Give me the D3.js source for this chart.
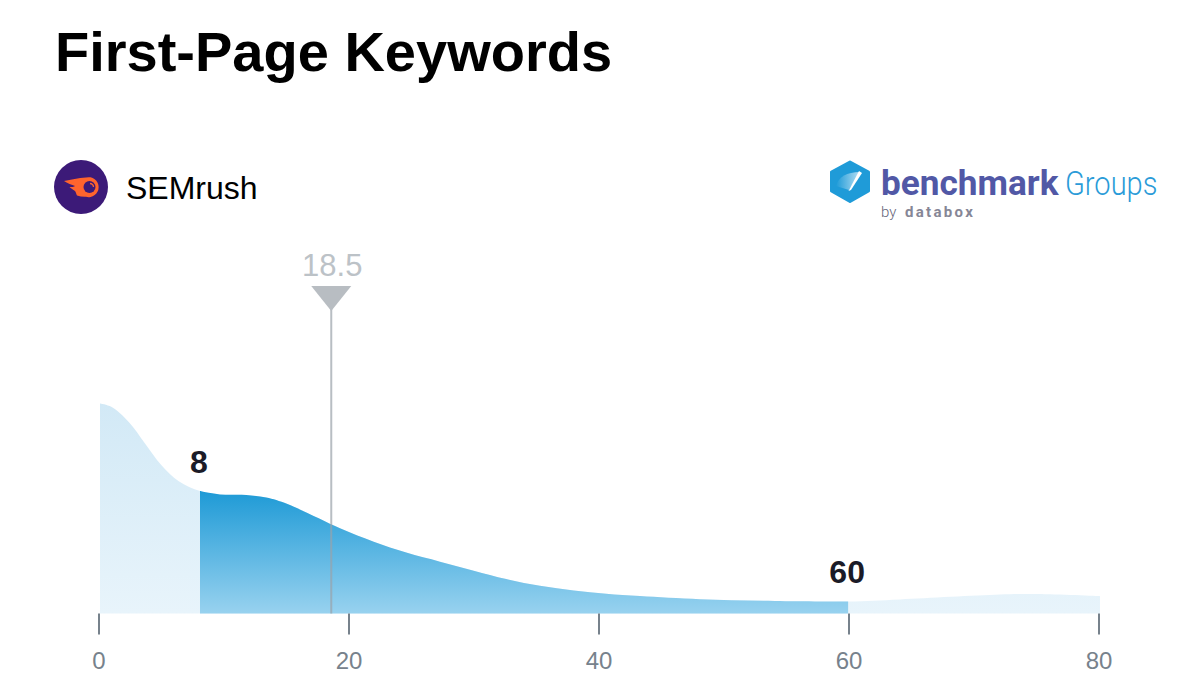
<!DOCTYPE html>
<html>
<head>
<meta charset="utf-8">
<script src="https://cdn.jsdelivr.net/npm/d3@7"></script>
<style>
html, body { margin: 0; padding: 0; background: #fff; }
svg { display: block; }
text { font-family: "Liberation Sans", Arial, sans-serif; }
</style>
</head>
<body>
<svg id="chart" width="1200" height="675"></svg>
<script>
// values, density is relative to the peak at 0
var xValues = [0, 0.9, 2.3, 3.6, 4.9, 6.3, 8, 9.6, 11.7, 13.3, 15, 19.2, 21.9, 24.5, 27.2, 29.9, 32.5, 35.2, 37.9, 40.5, 43.2, 48, 54, 59.85, 64, 72, 75, 80];
var density = [100, 98.4, 91.2, 81, 70.7, 63, 58.3, 56.7, 56.4, 55.2, 52.1, 40.6, 34.2, 29, 24.7, 20.4, 16.4, 13.2, 11, 9.4, 8.3, 6.8, 6, 5.7, 6.7, 9, 9.3, 8.3];
var xTicks = [0, 20, 40, 60, 80];
var bandStart = 8;
var bandEnd = 59.85;
var bandLabels = ["8", "60"];
var average = 18.5;

var svg = d3.select("#chart");
var points = xValues.map((v, i) => ({ x: v, y: density[i] }));

var x = d3.scaleLinear().domain([0, 80]).range([100, 1100]);
var y = d3.scaleLinear().domain([0, 100]).range([613.5, 403.5]);

var defs = svg.append("defs");
function gradient(id, top, bottom, horizontal) {
    var g = defs.append("linearGradient").attr("id", id)
        .attr("x1", 0).attr("y1", 0)
        .attr("x2", horizontal ? 1 : 0).attr("y2", horizontal ? 0 : 1);
    g.append("stop").attr("offset", "0%").attr("stop-color", top);
    g.append("stop").attr("offset", "100%").attr("stop-color", bottom);
}
gradient("lightFill", "#d2e9f6", "#e8f4fb");
gradient("darkFill", "#1e9ad6", "#98d2ef");
gradient("logoWedge", "#1f9bd8", "#b5def3", true);

var area = d3.area()
    .x(d => x(d.x))
    .y0(y(0))
    .y1(d => y(d.y))
    .curve(d3.curveCatmullRom.alpha(0.5));

// full distribution, light
svg.append("path").attr("d", area(points)).attr("fill", "url(#lightFill)");

// middle band drawn over it
var bandPoints = points.filter(d => d.x >= bandStart && d.x <= bandEnd);
svg.append("path").attr("d", area(bandPoints)).attr("fill", "url(#darkFill)");

// axis
var axis = d3.axisBottom(x).tickValues(xTicks).tickSize(21).tickPadding(17).offset(0);
var axisG = svg.append("g").attr("transform", "translate(-1,613.5)").call(axis);
axisG.select(".domain").remove();
axisG.selectAll(".tick line").attr("stroke", "#77828c").attr("stroke-width", 2);
axisG.selectAll(".tick text")
    .attr("fill", "#77828c")
    .style("font-size", "24px")
    .style("font-family", '"Liberation Sans", Arial, sans-serif');

// average marker
var avgX = x(average);
svg.append("line")
    .attr("x1", avgX).attr("x2", avgX)
    .attr("y1", 308).attr("y2", y(0))
    .attr("stroke", "#9aa2aa").attr("stroke-opacity", 0.7).attr("stroke-width", 2);
svg.append("path")
    .attr("d", d3.line()([[avgX - 20, 286], [avgX + 20, 286], [avgX, 311]]) + "Z")
    .attr("fill", "#b8bdc2");
svg.append("text")
    .attr("x", avgX + 1).attr("y", 276)
    .attr("text-anchor", "middle")
    .attr("fill", "#bcc2c7")
    .style("font-size", "31px")
    .text(average);

// band labels
[[bandStart, 473], [bandEnd, 583]].forEach(([v, ly], i) => {
    svg.append("text")
        .attr("x", x(v) - 1).attr("y", ly)
        .attr("text-anchor", "middle")
        .attr("fill", "#1b1b27")
        .style("font-size", "32px")
        .style("font-weight", "700")
        .text(bandLabels[i]);
});

// title and tool name
svg.append("text").attr("x", 55).attr("y", 71)
    .attr("fill", "#000").style("font-size", "56px").style("font-weight", "700")
    .text("First-Page Keywords");
svg.append("text").attr("x", 126).attr("y", 199)
    .attr("fill", "#000").style("font-size", "32px")
    .text("SEMrush");

// SEMrush badge
var badge = svg.append("g").attr("transform", "translate(81,187)");
badge.append("circle").attr("r", 27).attr("fill", "#3c1a78");
badge.append("path")
    .attr("d", "M-17,-6 C-10,-7 -3,-9 5,-9.5 A10,10 0 1 1 5,9.8 C2,10 -1,9.5 -4,8.5 C-5,7 -5,5 -6,4 C-8,3 -10,1 -11.5,0 C-9,0 -7,0 -6,-1 C-9,-2 -14,-4 -17,-6 Z")
    .attr("fill", "#ff642d");
badge.append("circle").attr("cx", 8.5).attr("cy", 0).attr("r", 6).attr("fill", "#3c1a78");
badge.append("path")
    .attr("d", "M9,-3.5 A3.5,3.5 0 0 1 12.5,0")
    .attr("fill", "none").attr("stroke", "#ff642d").attr("stroke-width", 1.3);

// benchmark logo
var logo = svg.append("g");
logo.append("path")
    .attr("d", "M850,162 L868.5,172 L868.5,191 L850,201.5 L831.5,191 L831.5,172 Z")
    .attr("fill", "#1f9bd8").attr("stroke", "#1f9bd8")
    .attr("stroke-width", 3).attr("stroke-linejoin", "round");
logo.append("path")
    .attr("d", "M849,190 L836,186 Q840,172 860,172 Z")
    .attr("fill", "url(#logoWedge)");
logo.append("path")
    .attr("d", "M859,171 L862,173 L851,190 L848.5,191 Z")
    .attr("fill", "#fff");

function logoText(label, px, py, size, weight, fill, scaleX, spacing) {
    svg.append("text")
        .attr("transform", `translate(${px},${py}) scale(${scaleX},1)`)
        .attr("fill", fill)
        .style("font-family", "Roboto, sans-serif")
        .style("font-size", size + "px")
        .style("font-weight", weight)
        .style("letter-spacing", spacing + "px")
        .text(label);
}
logoText("benchmark", 881, 195, 34.5, 700, "#5158a6", 1.02, 0);
logoText("Groups", 1065, 195, 33, 300, "#2a9bd8", 0.88, 0);
logoText("by", 881, 217, 15, 300, "#66667a", 1, 0);
logoText("databox", 905, 217, 15, 700, "#868696", 1, 2.3);
</script>
</body>
</html>
